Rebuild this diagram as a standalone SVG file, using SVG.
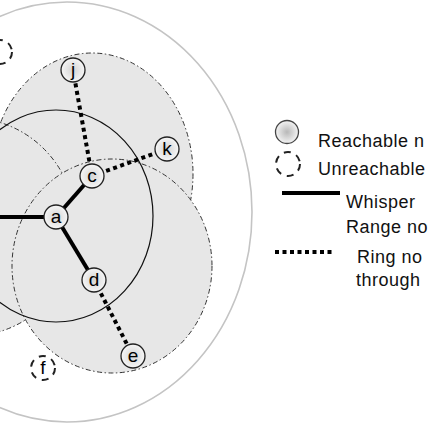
<svg xmlns="http://www.w3.org/2000/svg" width="431" height="431" viewBox="0 0 431 431">
<defs>
<radialGradient id="ng" cx="50%" cy="50%" r="50%">
<stop offset="0" stop-color="#d4d4d4"/>
<stop offset="1" stop-color="#f6f6f6"/>
</radialGradient>
<radialGradient id="lg" cx="50%" cy="50%" r="50%">
<stop offset="0" stop-color="#b8b8b8"/>
<stop offset="1" stop-color="#f4f4f4"/>
</radialGradient>
<style>
.range{fill:#e7e7e7;stroke:#333;stroke-width:1;stroke-dasharray:5 2.5 1.5 2.5}
.node circle{fill:url(#ng);stroke:#222;stroke-width:1.3}
.lbl{font-family:"Liberation Sans",Arial,sans-serif;font-size:19px;fill:#000;text-anchor:middle}
.solid{stroke:#000;stroke-width:4;fill:none}
.dot{stroke:#000;stroke-width:4;fill:none;stroke-dasharray:4 3.5}
.unreach{fill:#fff;stroke:#222;stroke-width:2;stroke-dasharray:7 6}
.leg{font-family:"Liberation Sans",Arial,sans-serif;font-size:18px;fill:#111;letter-spacing:0.5px}
</style>
</defs>
<rect width="431" height="431" fill="#fff"/>
<ellipse id="outer" cx="67" cy="212" rx="185" ry="210" fill="none" stroke="#c4c4c4" stroke-width="1.6"/>
<g id="ranges">
<ellipse class="range" cx="92" cy="174" rx="101" ry="121"/>
<ellipse class="range" cx="-30" cy="227" rx="106" ry="109"/>
<ellipse class="range" cx="112" cy="266" rx="100" ry="107"/>
</g>
<ellipse id="whisper-range" cx="56" cy="216" rx="97" ry="106" fill="none" stroke="#111" stroke-width="1.2"/>
<g id="connectors">
<line class="solid" x1="56" y1="217" x2="0" y2="217"/>
<line class="solid" x1="56" y1="217" x2="92" y2="176"/>
<line class="solid" x1="56" y1="217" x2="94" y2="280"/>
<line class="dot" x1="92" y1="176" x2="73" y2="70"/>
<line class="dot" x1="92" y1="176" x2="167" y2="149"/>
<line class="dot" x1="94" y1="280" x2="133" y2="356"/>
</g>
<g id="node-a" class="node"><circle cx="56" cy="217" r="12"/><text class="lbl" x="56" y="223">a</text></g>
<g id="node-c" class="node"><circle cx="92" cy="176" r="12"/><text class="lbl" x="92" y="182">c</text></g>
<g id="node-d" class="node"><circle cx="94" cy="280" r="12"/><text class="lbl" x="94" y="286">d</text></g>
<g id="node-j" class="node"><circle cx="73" cy="70" r="12"/><text class="lbl" x="73" y="76">j</text></g>
<g id="node-k" class="node"><circle cx="167" cy="149" r="12"/><text class="lbl" x="167" y="155">k</text></g>
<g id="node-e" class="node"><circle cx="133" cy="356" r="12"/><text class="lbl" x="133" y="362">e</text></g>
<g id="node-f"><circle class="unreach" cx="43" cy="368" r="12"/><text class="lbl" x="43" y="374">f</text></g>
<g id="node-top"><circle class="unreach" cx="0" cy="52" r="12"/></g>
<g id="legend">
<circle cx="287" cy="132" r="11.5" fill="url(#lg)" stroke="#444" stroke-width="1.3"/>
<text class="leg" x="318" y="147">Reachable n</text>
<circle class="unreach" cx="288" cy="164" r="12"/>
<text class="leg" x="318" y="175">Unreachable</text>
<line class="solid" x1="282" y1="193" x2="340" y2="193"/>
<text class="leg" x="346" y="208">Whisper</text>
<text class="leg" x="346" y="233">Range no</text>
<line class="dot" x1="275" y1="252" x2="334" y2="252"/>
<text class="leg" x="357" y="263">Ring no</text>
<text class="leg" x="356" y="286">through</text>
</g>
</svg>
